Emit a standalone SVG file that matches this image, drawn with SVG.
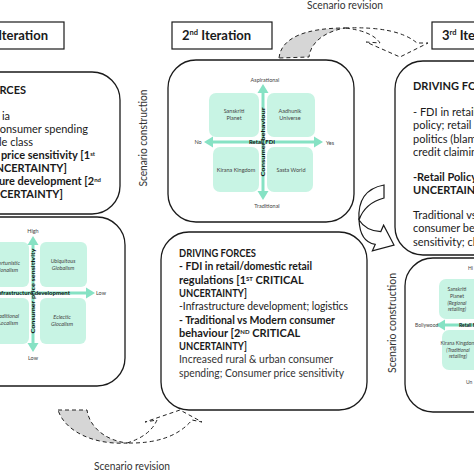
<svg xmlns="http://www.w3.org/2000/svg" width="474" height="474" viewBox="0 0 474 474">
<defs>
<style>
text{font-family:Lato,"Liberation Sans",sans-serif;fill:#1a1a1a}
.b{font-weight:700}
.t{font-size:11px}
.h{font-size:13px;font-weight:700}
.box{fill:#fff;stroke:#1a1a1a;stroke-width:1.3}
.hdr{fill:#fff;stroke:#1a1a1a;stroke-width:1.2}
.cell{fill:#c8f4e4}
.ax{stroke:#86e2c4;stroke-width:3;fill:none}
.ah{fill:#86e2c4}
.q{font-size:5.5px;fill:#444}
.qi{font-size:5.5px;fill:#444;font-style:italic}
.qb{font-size:6px;font-weight:700;fill:#111}
.side{font-size:11.5px;fill:#333}
.dash{stroke:#222;stroke-width:1;stroke-dasharray:4 3;fill:#fff}
.gray{fill:#d6d6d6}
.solid{stroke:#1a1a1a;stroke-width:1.2;fill:#fff}
.sup{font-size:6px}
</style>
</defs>

<!-- Headers -->
<g id="hdr1">
<rect class="hdr" x="-60" y="22" width="124" height="27"/>
<text class="h" x="48" y="40" text-anchor="end">1<tspan class="sup" dy="-4">st</tspan><tspan dy="4"> Iteration</tspan></text>
</g>
<g id="hdr2">
<rect class="hdr" x="172" y="22" width="100" height="27"/>
<text class="h" x="182" y="40">2<tspan class="sup" style="font-size:7.5px" dy="-5">nd</tspan><tspan dy="5"> Iteration</tspan></text>
</g>
<g id="hdr3">
<rect class="hdr" x="432" y="22" width="110" height="27"/>
<text class="h" x="442" y="40">3<tspan class="sup" style="font-size:7.5px" dy="-5">rd</tspan><tspan dy="5"> Iteration</tspan></text>
</g>

<!-- Left driving forces box -->
<g id="df1">
<rect class="box" x="-30" y="72" width="150" height="142" rx="28"/>
<text class="t b" x="26" y="94" text-anchor="end">DRIVING FORCES</text>
<text class="t" x="10" y="120" text-anchor="end">ia</text>
<text class="t" x="88" y="133" text-anchor="end">consumer spending</text>
<text class="t" x="33" y="146" text-anchor="end">dle class</text>
<text class="t b" x="95" y="159" text-anchor="end">price sensitivity [1<tspan class="sup" dy="-3">st</tspan></text>
<text class="t b" x="67" y="172" text-anchor="end">UNCERTAINTY]</text>
<text class="t b" x="101" y="185" text-anchor="end">ture development [2<tspan class="sup" dy="-3">nd</tspan></text>
<text class="t b" x="63" y="198" text-anchor="end">UNCERTAINTY]</text>
</g>

<!-- Left quadrant box -->
<g id="quad1">
<rect class="box" x="-30" y="217" width="155" height="169" rx="28"/>
<rect class="cell" x="-20" y="242" width="49" height="45" rx="6"/>
<rect class="cell" x="40" y="242" width="47" height="45" rx="6"/>
<rect class="cell" x="-20" y="298" width="49" height="46" rx="6"/>
<rect class="cell" x="40" y="298" width="46" height="46" rx="6"/>
<line class="ax" x1="33" y1="243" x2="33" y2="345"/>
<polygon class="ah" points="33,236 27.5,245 38.5,245"/>
<polygon class="ah" points="33,352 27.5,343 38.5,343"/>
<line class="ax" x1="-5" y1="293" x2="87" y2="293"/>
<polygon class="ah" points="95,293 86,287.5 86,298.5"/>
<text class="qi" x="20" y="265" text-anchor="end">Opportunistic</text>
<text class="qi" x="18" y="272" text-anchor="end">Nationalism</text>
<text class="qi" x="63" y="263" text-anchor="middle">Ubiquitous</text>
<text class="qi" x="63" y="270" text-anchor="middle">Globalism</text>
<text class="qi" x="19" y="318" text-anchor="end">Traditional</text>
<text class="qi" x="18" y="325" text-anchor="end">Localism</text>
<text class="qi" x="62" y="319" text-anchor="middle">Eclectic</text>
<text class="qi" x="62" y="326" text-anchor="middle">Glocalism</text>
<text class="q" x="33" y="233" text-anchor="middle">High</text>
<text class="q" x="33" y="360" text-anchor="middle">Low</text>
<text class="q" x="96" y="295">Low</text>
<text class="qb" x="33" y="295" text-anchor="middle" textLength="74" lengthAdjust="spacingAndGlyphs">Infrastructure development</text>
<text class="qb" transform="translate(35,291) rotate(-90)" text-anchor="middle" textLength="85" lengthAdjust="spacingAndGlyphs">Consumer   price sensitivity</text>
</g>

<!-- Middle quadrant box -->
<g id="quad2">
<rect class="box" x="168" y="60" width="186" height="162" rx="28"/>
<rect class="cell" x="209" y="93" width="50" height="44" rx="7"/>
<rect class="cell" x="267" y="93" width="48" height="44" rx="7"/>
<rect class="cell" x="213" y="147" width="46" height="45" rx="7"/>
<rect class="cell" x="267" y="147" width="46" height="45" rx="7"/>
<line class="ax" x1="263" y1="91" x2="263" y2="193"/>
<polygon class="ah" points="263,84 257.5,93 268.5,93"/>
<polygon class="ah" points="263,200 257.5,191 268.5,191"/>
<line class="ax" x1="211" y1="142" x2="316" y2="142"/>
<polygon class="ah" points="204,142 213,136.5 213,147.5"/>
<polygon class="ah" points="323,142 314,136.5 314,147.5"/>
<text class="q" x="234" y="113" text-anchor="middle">Sanskriti</text>
<text class="q" x="234" y="120" text-anchor="middle">Planet</text>
<text class="q" x="290" y="113" text-anchor="middle">Aadhunik</text>
<text class="q" x="290" y="120" text-anchor="middle">Universe</text>
<text class="q" x="236" y="172" text-anchor="middle">Kirana Kingdom</text>
<text class="q" x="291" y="172" text-anchor="middle">Sasta World</text>
<text class="q" x="265" y="82" text-anchor="middle">Aspirational</text>
<text class="q" x="267" y="208" text-anchor="middle">Traditional</text>
<text class="q" x="198" y="144" text-anchor="middle">No</text>
<text class="q" x="330" y="145" text-anchor="middle">Yes</text>
<text class="qb" x="262" y="144" text-anchor="middle" textLength="26" lengthAdjust="spacingAndGlyphs">Retail FDI</text>
<text class="qb" transform="translate(265,142) rotate(-90)" text-anchor="middle" textLength="69" lengthAdjust="spacingAndGlyphs">Consumer    behaviour</text>
</g>

<!-- Middle driving forces box -->
<g id="df2">
<rect class="box" x="161" y="232" width="206" height="178" rx="28"/>
<text class="t b" x="179" y="257" textLength="77" lengthAdjust="spacingAndGlyphs">DRIVING FORCES</text>
<text class="t b" x="179" y="270" textLength="133" lengthAdjust="spacingAndGlyphs">- FDI in retail/domestic retail</text>
<text class="t b" x="179" y="284">regulations [1<tspan class="sup" dy="-3">ST</tspan><tspan dy="3"> CRITICAL</tspan></text>
<text class="t b" x="179" y="297" textLength="68" lengthAdjust="spacingAndGlyphs">UNCERTAINTY]</text>
<text class="t" x="179" y="310" textLength="169" lengthAdjust="spacingAndGlyphs">-Infrastructure development; logistics</text>
<text class="t b" x="179" y="324" textLength="156" lengthAdjust="spacingAndGlyphs">- Traditional vs Modern consumer</text>
<text class="t b" x="179" y="337">behaviour [2<tspan class="sup" dy="-3">ND</tspan><tspan dy="3"> CRITICAL</tspan></text>
<text class="t b" x="179" y="350" textLength="68" lengthAdjust="spacingAndGlyphs">UNCERTAINTY]</text>
<text class="t" x="179" y="363" textLength="154" lengthAdjust="spacingAndGlyphs" style="fill:#333">Increased rural &amp; urban consumer</text>
<text class="t" x="179" y="377" textLength="165" lengthAdjust="spacingAndGlyphs" style="fill:#333">spending; Consumer price sensitivity</text>
</g>

<!-- Right driving forces box -->
<g id="df3">
<rect class="box" x="395" y="61" width="130" height="194" rx="28"/>
<text class="t b" x="413" y="90">DRIVING FORCES</text>
<text class="t" x="413" y="116">- FDI in retail;</text>
<text class="t" x="413" y="129">policy; retail l</text>
<text class="t" x="413" y="143">politics (blame</text>
<text class="t" x="413" y="156">credit claiming</text>
<text class="t b" x="413" y="181">-Retail Policy</text>
<text class="t b" x="413" y="194">UNCERTAINTY]</text>
<text class="t" x="413" y="219">Traditional vs</text>
<text class="t" x="413" y="232">consumer behaviour</text>
<text class="t" x="413" y="246">sensitivity; ch</text>
</g>

<!-- Right quadrant box -->
<g id="quad3">
<rect class="box" x="405" y="258" width="120" height="154" rx="28"/>
<rect class="cell" x="439" y="279" width="51" height="40" rx="7"/>
<rect class="cell" x="442" y="330" width="48" height="40" rx="7"/>
<line class="ax" x1="443" y1="325" x2="480" y2="325"/>
<polygon class="ah" points="436,325 445,319.5 445,330.5"/>
<text class="q" x="457" y="291" text-anchor="middle" style="font-size:5px">Sanskriti</text>
<text class="q" x="457" y="298" text-anchor="middle" style="font-size:5px">Planet</text>
<text class="qi" x="457" y="305" text-anchor="middle" style="font-size:5px">(Regional</text>
<text class="qi" x="457" y="311" text-anchor="middle" style="font-size:5px">retailing)</text>
<text class="q" x="458" y="345" text-anchor="middle" style="font-size:5px">Kirana Kingdom</text>
<text class="qi" x="458" y="352" text-anchor="middle" style="font-size:5px">(Traditional</text>
<text class="qi" x="458" y="358" text-anchor="middle" style="font-size:5px">retailing)</text>
<text class="q" x="415" y="327" style="font-size:5px">Bollywood</text>
<text class="qb" x="459" y="327" style="font-size:5px">Retail FDI</text>
<text class="q" x="468" y="270" style="font-size:5px">Hi</text>
<text class="q" x="466" y="384" style="font-size:5px">Un</text>
</g>

<!-- Side labels -->
<g id="labels">
<text class="side" transform="translate(147,138) rotate(-90)" text-anchor="middle" textLength="97" lengthAdjust="spacingAndGlyphs">Scenario construction</text>
<text class="side" transform="translate(396,323) rotate(-90)" text-anchor="middle" textLength="100" lengthAdjust="spacingAndGlyphs">Scenario construction</text>
<text class="side" x="345" y="9" text-anchor="middle" style="font-size:11px" textLength="76" lengthAdjust="spacingAndGlyphs">Scenario revision</text>
<text class="side" x="132" y="470" text-anchor="middle" style="font-size:11px" textLength="76" lengthAdjust="spacingAndGlyphs">Scenario revision</text>
</g>

<!-- Connectors -->
<g id="connectors">
<path class="dash gray" d="M279,58 C281,38 305,28 345,28 C328,31 311,40 309,57 Z"/>
<path class="dash" d="M345,28 Q397,26 417,43 L428,43 L400,57 L366,42 L380,43 Q372,31 345,28 Z"/>
<path class="dash gray" d="M58,410 L87,410 C89,425 103,440 127,443 C95,445 65,432 58,410 Z"/>
<path class="dash" d="M127,443 Q150,436 157,420 L145,422 L180,410 L202,422 L192,420 Q172,444 127,443 Z"/>
<path class="solid gray" d="M384,185 Q357,190 359,220 Q365,203 384,198 Z"/>
<path class="solid" d="M359,220 Q366,231 380.8,231.6 L383.6,225.2 L394,245 L372.4,250.8 L375.2,244.4 Q360,242 359,220 Z"/>
</g>
</svg>
